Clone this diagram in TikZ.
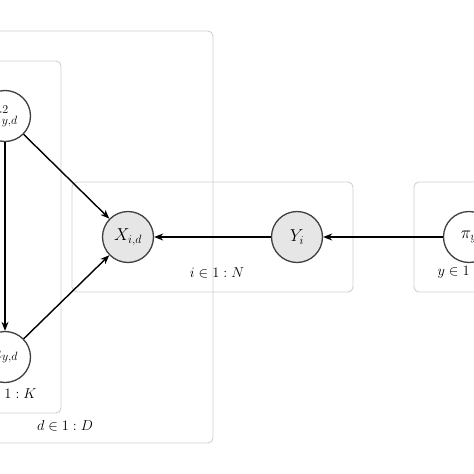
\documentclass[tikz,border=0pt]{standalone}
\usepackage{amsmath}
\usepackage{amssymb}
\usetikzlibrary{arrows.meta}

\DeclareMathSizes{16}{16}{12.5}{10}
\definecolor{nodeline}{HTML}{404040}
\definecolor{obsfill}{HTML}{E6E6E6}
\definecolor{plateline}{HTML}{D0D0D0}

\begin{document}
\begin{tikzpicture}[x=1pt,y=1pt]
\tikzstyle{every node}+=[inner sep=0pt]
\tikzstyle{latent}=[circle,draw=nodeline,line width=1.3pt,fill=white,minimum size=51pt,font=\fontsize{16}{19}\selectfont]
\tikzstyle{obs}=[latent,fill=obsfill]
\tikzstyle{plate}=[draw=plateline,line width=0.9pt,rounded corners=5pt]
\tikzstyle{platelab}=[font=\fontsize{15.5}{18}\selectfont]
\tikzstyle{edge}=[-{Stealth[length=9pt,width=7pt]},line width=1.4pt,black]
\useasboundingbox (0,0) rectangle (474,-474);
\clip (0,0) rectangle (474,-474);
% plates
\draw [plate] (-80,-31) rectangle (213,-443);
\draw [plate] (-51,-61) rectangle (61,-413);
\draw [plate] (72,-182) rectangle (353,-292);
\draw [plate] (414,-182) rectangle (524,-292);
\node [platelab] (labD) at (65,-426) {$d\in 1:D$};
\node [platelab] (labK) at (8,-395) {$y\in 1:K$};
\node [platelab] (labN) at (217,-273) {$i\in 1:N$};
\node [platelab] (labY) at (466,-272) {$y\in 1:K$};
% nodes
\node [latent] (sig) at (5,-116) {$\sigma^2_{y,d}$};
\node [latent] (mu) at (5,-357) {$\mu_{y,d}$};
\node [obs] (X) at (128,-237) {$X_{i,d}$};
\node [obs] (Y) at (297,-237) {$Y_i$};
\node [latent] (pi) at (469,-237) {$\pi_y$};
% edges
\draw [edge] (sig) -- (mu);
\draw [edge] (sig) -- (X);
\draw [edge] (mu) -- (X);
\draw [edge] (Y) -- (X);
\draw [edge] (pi) -- (Y);
\end{tikzpicture}
\end{document}
